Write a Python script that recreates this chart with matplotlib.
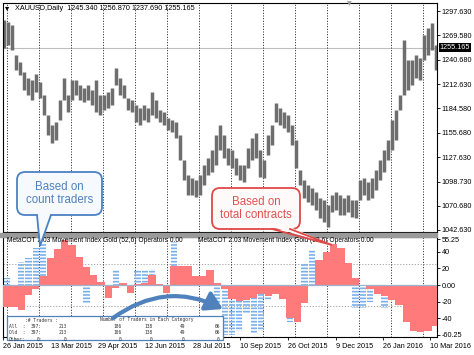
import numpy as np
import matplotlib.pyplot as plt
from matplotlib.patches import FancyBboxPatch, Polygon, Rectangle, FancyArrowPatch

plt.rcParams['font.family'] = ['Liberation Sans', 'DejaVu Sans']
plt.rcParams['hatch.linewidth'] = 1.2

# XAUUSD daily ranges, sampled about every 3 trading days
price_high = [
    1287.2, 1284.8, 1281.3, 1246.4, 1238.2, 1226.6, 1219.6, 1217.3, 1224.3, 1215.0,
    1199.8, 1176.5, 1164.9, 1168.4, 1194.0, 1219.6, 1199.8, 1217.3, 1217.3, 1211.5,
    1208.0, 1211.5, 1205.6, 1217.3, 1199.8, 1199.8, 1203.3, 1208.0, 1231.3, 1219.6,
    1211.5, 1196.3, 1194.0, 1188.2, 1184.7, 1188.2, 1184.7, 1203.3, 1194.0, 1182.4,
    1180.0, 1173.0, 1170.7, 1168.4, 1153.2, 1124.1, 1106.7, 1103.2, 1100.9, 1106.7,
    1118.3, 1126.5, 1135.8, 1153.2, 1164.9, 1153.2, 1138.1, 1135.8, 1126.5, 1118.3,
    1118.3, 1138.1, 1149.7, 1155.6, 1135.8, 1124.1, 1153.2, 1164.9, 1190.5, 1184.7,
    1180.0, 1176.5, 1164.9, 1147.4, 1112.5, 1100.9, 1095.0, 1091.5, 1086.9, 1079.9,
    1077.6, 1071.7, 1083.4, 1086.9, 1083.4, 1079.9, 1083.4, 1077.6, 1077.6, 1100.9,
    1103.2, 1098.5, 1103.2, 1112.5, 1124.1, 1135.8, 1147.4, 1170.7, 1182.4, 1199.8,
    1263.9, 1240.6, 1240.6, 1246.4, 1242.9, 1269.7, 1277.8, 1283.7, 1258.0]
price_low = [
    1254.6, 1258.0, 1252.2, 1228.9, 1223.1, 1205.6, 1199.8, 1194.0, 1203.3, 1196.3,
    1176.5, 1153.2, 1143.9, 1147.4, 1170.7, 1194.0, 1180.0, 1194.0, 1199.8, 1194.0,
    1191.7, 1194.0, 1188.2, 1180.0, 1176.5, 1182.4, 1184.7, 1188.2, 1211.5, 1199.8,
    1196.3, 1182.4, 1180.0, 1168.4, 1164.9, 1170.7, 1168.4, 1176.5, 1173.0, 1168.4,
    1164.9, 1159.1, 1156.7, 1149.7, 1124.1, 1100.9, 1083.4, 1083.4, 1081.1, 1083.4,
    1095.0, 1106.7, 1110.2, 1118.3, 1135.8, 1126.5, 1118.3, 1114.8, 1106.7, 1100.9,
    1098.5, 1114.8, 1124.1, 1126.5, 1104.3, 1103.2, 1130.0, 1141.6, 1168.4, 1164.9,
    1161.4, 1156.7, 1141.6, 1114.8, 1095.0, 1079.9, 1075.2, 1071.7, 1065.9, 1056.6,
    1051.9, 1046.1, 1063.6, 1065.9, 1060.1, 1060.1, 1063.6, 1057.8, 1056.6, 1077.6,
    1083.4, 1077.6, 1079.9, 1089.2, 1100.9, 1110.2, 1124.1, 1135.8, 1147.4, 1182.4,
    1199.8, 1205.6, 1211.5, 1219.6, 1217.3, 1240.6, 1246.4, 1252.2, 1228.9]
last_price = 1255.165
chart_title = 'XAUUSD,Daily  1245.340 1256.870 1237.690 1255.165'
price_ticks = [1297.630, 1269.580, 1240.680, 1212.630, 1184.580,
               1155.680, 1127.630, 1098.730, 1070.680, 1042.630]

# weekly COT movement index: by open contracts (red) and by trader count (blue)
mi_contracts = [-27, -27, -30, -12, -5, 11, 33, 44, 54, 48,
                34, 22, 12, 4, -16, -4, 2, -10, 1, 3,
                12, 1, -10, 23, 23, 23, 11, 11, 18, 3,
                -5, -17, -19, -18, -16, -11, -13, -11, -17, -40,
                -45, -22, 0, 30, 40, 50, 45, 27, 8, 0,
                -5, -11, -13, -18, -24, -45, -56, -57, -56, -50]
mi_traders = [8, 0, 28, 33, 45, 50, 0, 0, 0, 0,
              0, -22, 0, 0, 0, 18, 0, 0, 18, 18,
              19, 0, 0, 52, 0, 0, 0, 0, 0, -28,
              -60, -60, -55, -35, -58, -55, -18, 0, 0, -45,
              0, 26, 42, 0, 0, 0, 0, 0, -28, -28,
              -20, 0, -28, 0, 0, 0, 0, 0, 0, 0]
ind_ticks = [55.25, 40, 20, 0.0, -20, -40, -60.25]
ind_tick_labels = ['55.25', '40', '20', '0.00', '-20', '-40', '-60.25']
levels = [25, -25]
ind_title = 'MetaCOT 2.03 Movement Index Gold (52,6) Operators 0.00'

date_labels = ['26 Jan 2015', '13 Mar 2015', '29 Apr 2015', '12 Jun 2015', '28 Jul 2015',
               '10 Sep 2015', '26 Oct 2015', '9 Dec 2015', '26 Jan 2016', '10 Mar 2016']
date_pos = [-0.25, 11.75, 23.5, 35.25, 47.25, 59, 71, 83, 94.75, 106.5]

table_header = [':# Traders :', 'Number of Traders in Each Category']
table_rows = [['All  :', '397:', '213', '106', '138', '49', '66'],
              ['Old  :', '397:', '213', '106', '138', '49', '66'],
              ['Other:', '0:', '0', '0', '0', '0', '0']]

W, H = 474, 355


def frac(l, t, r, b):
    return [l / W, 1 - b / H, (r - l) / W, (b - t) / H]


fig = plt.figure(figsize=(W / 100, H / 100), dpi=100)
ax = fig.add_axes(frac(3, 3, 437, 232))
axi = fig.add_axes(frac(3, 237, 437, 337))

# price pane
x = np.arange(len(price_high))
ax.vlines(x, price_low, price_high, color='#6e6e6e', lw=2.5)
ax.axhline(last_price, color='#bdbdbd', lw=0.8, zorder=0)
ax.set_xlim(-0.25, len(x) - 0.75)
ax.set_ylim(1040.3, 1307.0)
ax.yaxis.tick_right()
ax.set_yticks(price_ticks)
ax.set_yticklabels([f'{v:.3f}' for v in price_ticks])
ax.set_xticks([])
ax.tick_params(axis='y', length=2, pad=1.5, labelsize=5.2, width=0.6)
ax.text(1.006, last_price, f'{last_price:.3f}', transform=ax.get_yaxis_transform(),
        fontsize=5.2, color='white', va='center', ha='left',
        bbox=dict(facecolor='black', edgecolor='none', pad=0.8))

# indicator pane
week_w = len(x) / len(mi_contracts)
wx = -0.25 + (np.arange(len(mi_contracts)) + 0.5) * week_w
axi.bar(wx, mi_traders, width=week_w * 0.85, fill=False, hatch='-----',
        edgecolor='#7ab0ea', linewidth=0, zorder=2)
axi.bar(wx, mi_contracts, width=week_w, color='#ff7b7b', linewidth=0, zorder=3)
axi.axhline(0, color='#9db2cc', lw=0.9, zorder=4)
for lv in levels:
    axi.axhline(lv, color='#9a9a9a', lw=0.6, ls=(0, (1.5, 2)), zorder=1)
axi.set_xlim(-0.25, len(x) - 0.75)
axi.set_ylim(-62.8, 58)
axi.yaxis.tick_right()
axi.set_yticks(ind_ticks)
axi.set_yticklabels(ind_tick_labels)
axi.set_xticks(date_pos)
axi.set_xticklabels(date_labels, ha='left')
axi.tick_params(axis='y', length=2, pad=1.5, labelsize=5.2, width=0.6)
axi.tick_params(axis='x', length=2, pad=2.5, labelsize=5.2, width=0.6)

for a in (ax, axi):
    for gx in np.arange(0.75, len(x), 8):
        a.axvline(gx, color='black', lw=0.6, ls=(0, (1.2, 2)), zorder=1)
    for s in a.spines.values():
        s.set_linewidth(0.8)

# overlay in pixel coordinates
ov = fig.add_axes([0, 0, 1, 1])
ov.set_xlim(0, W)
ov.set_ylim(H, 0)
ov.axis('off')

ov.add_patch(Rectangle((0, 232.5), 437, 4, color='#9a9a9a', zorder=2))
ov.text(7, 8, '\u25be', fontsize=6, va='center', ha='center', family='DejaVu Sans')
ov.text(15, 8, chart_title, fontsize=5.2, va='center', ha='left')
ov.text(349, 4, '\u25bc', fontsize=4.5, color='#a0a0a0', va='center', ha='center',
        family='DejaVu Sans')
ov.text(7, 241, ind_title, fontsize=4.8, va='center', ha='left', zorder=9)
ov.text(198, 241, ind_title, fontsize=4.8, va='center', ha='left', zorder=9)


def callout(box, base, tip, text, edge, face, tcolor):
    l, t, r, b = box
    ov.add_patch(FancyBboxPatch((l, t), r - l, b - t, boxstyle='round,pad=0,rounding_size=8',
                                fc=face, ec=edge, lw=1.3, zorder=10))
    x1, x2 = base
    ov.add_patch(Polygon([(x1, b - 2), tip, (x2, b - 2)], closed=True,
                         fc=face, ec='none', zorder=11))
    ov.plot([x1, tip[0], x2], [b, tip[1], b], color=edge, lw=1.3, zorder=12,
            solid_joinstyle='miter')
    ov.text((l + r) / 2, (t + b) / 2, text, color=tcolor, fontsize=8.3, ha='center',
            va='center', linespacing=1.05, zorder=13)


callout((17, 172, 102, 215), (37, 51), (40, 246), 'Based on\ncount traders',
        '#4a82c4', '#f6f9fe', '#4f81bd')
callout((212, 188, 300, 229), (272, 290), (332, 245), 'Based on\ntotal contracts',
        '#e04848', '#fffafa', '#e05252')

# traders table
ov.add_patch(Rectangle((7, 316), 216, 24, fc='white', ec='#4f81bd', lw=0.9, zorder=14))
mono = dict(family='DejaVu Sans Mono', fontsize=3.3, color='#333333', va='center', zorder=15)
ov.text(25, 320, table_header[0], ha='left', **mono)
ov.text(100, 320, table_header[1], ha='left', **mono)
col_right = [42, 67, 122, 153, 185, 220]
for i, row in enumerate(table_rows):
    yy = 326.5 + i * 6.3
    ov.text(9, yy, row[0], ha='left', **mono)
    for cx, val in zip(col_right, row[1:]):
        ov.text(cx, yy, val, ha='right', **mono)

ov.add_patch(FancyArrowPatch((113, 318), (223, 309), connectionstyle='arc3,rad=-0.3',
                             arrowstyle='-|>,head_length=0.5,head_width=0.3',
                             mutation_scale=20, lw=3, color='#4f81bd',
                             shrinkA=0, shrinkB=0, zorder=16))

fig.savefig('out.png', dpi=100)
